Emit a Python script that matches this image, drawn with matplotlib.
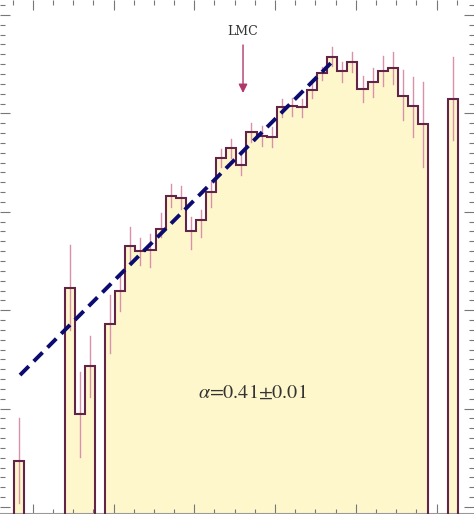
import numpy as np
import matplotlib
matplotlib.use('Agg')
import matplotlib.pyplot as plt
from matplotlib.ticker import MultipleLocator

# histogram bins (bin width 0.125), None = empty bin
bin_start = 0.77
bin_width = 0.125
heights = [0.47, None, None, None, None, 2.23, 0.95, 1.43, None,
           1.86, 2.19, 2.65, 2.60, 2.61, 2.83, 3.16, 3.14, 2.80, 2.92,
           3.20, 3.55, 3.65, 3.48, 3.81, 3.77, 3.76, 4.06, 4.07, 4.06,
           4.24, 4.41, 4.57, 4.43, 4.52, 4.25, 4.32, 4.43, 4.46, 4.18,
           4.07, 3.89, None, None, 4.15]
err_lo = [0.04, None, None, None, None, 1.80, 0.51, 1.12, None,
          1.56, 1.99, 2.47, 2.46, 2.44, 2.74, 3.05, 3.03, 2.62, 2.74,
          3.05, 3.45, 3.55, 3.37, 3.71, 3.67, 3.66, 3.96, 3.97, 3.96,
          4.16, 4.34, 4.48, 4.32, 4.42, 4.12, 4.17, 4.28, 4.30, 3.93,
          3.76, 3.46, None, None, 3.73]
err_hi = [0.90, None, None, None, None, 2.66, 1.37, 1.74, None,
          2.15, 2.37, 2.85, 2.73, 2.77, 2.99, 3.28, 3.26, 2.95, 3.02,
          3.30, 3.64, 3.74, 3.61, 3.90, 3.87, 3.86, 4.15, 4.16, 4.15,
          4.31, 4.47, 4.67, 4.52, 4.62, 4.38, 4.46, 4.58, 4.62, 4.44,
          4.37, 4.32, None, None, 4.57]

# power-law fit line
fit_x = [0.843, 4.704]
fit_y = [1.341, 4.522]
fit_label = r'$\alpha$=0.41$\pm$0.01'

# LMC marker
lmc_x = 3.603
lmc_tip = 4.207
lmc_tail = 4.695

base = -1.0
n = len(heights)
edges = bin_start + bin_width * np.arange(n + 1)
centers = edges[:-1] + bin_width / 2
vals = np.array([base if h is None else h for h in heights])

plt.rcParams['mathtext.fontset'] = 'stix'

fig = plt.figure(figsize=(4.74, 5.14), dpi=100)
ax = fig.add_axes([0, 0, 1, 1])

ax.stairs(vals, edges, baseline=base, fill=True, color='#fff7cc', zorder=1)

for c, lo, hi in zip(centers, err_lo, err_hi):
    if lo is None:
        continue
    ax.plot([c, c], [lo, hi], color='#d991aa', lw=1.0, zorder=2)

ax.stairs(vals, edges, baseline=base, fill=False, color='#632547', lw=1.5, zorder=3)

ax.plot(fit_x, fit_y, color='#0b0b70', lw=2.8, linestyle=(0, (3.2, 1.8)),
        solid_capstyle='butt', zorder=4)

ax.annotate('', xy=(lmc_x, lmc_tip), xytext=(lmc_x, lmc_tail),
            arrowprops=dict(arrowstyle='-|>', color='#b0376a', lw=1.0,
                            mutation_scale=13, shrinkA=0, shrinkB=0))
ax.text(lmc_x, lmc_tail + 0.14, 'LMC', ha='center', va='center',
        fontsize=9, family='DejaVu Serif', color='#333333')

ax.text(3.714, 1.159, fit_label, ha='center', va='center', fontsize=14.5,
        family='STIXGeneral', color='#333333')

ax.set_xlim(0.595, 6.462)
ax.set_ylim(-0.071, 5.152)
ax.xaxis.set_major_locator(MultipleLocator(1))
ax.xaxis.set_minor_locator(MultipleLocator(0.25))
ax.yaxis.set_major_locator(MultipleLocator(1))
ax.yaxis.set_minor_locator(MultipleLocator(0.1))
ax.tick_params(which='both', direction='in', top=True, right=True,
               labelbottom=False, labelleft=False, color='#777777', width=0.8)
ax.tick_params(which='major', length=7)
ax.tick_params(which='minor', length=3.6)
for side in ['left', 'top', 'right']:
    ax.spines[side].set_visible(False)
ax.spines['bottom'].set_color('#999999')
ax.spines['bottom'].set_linewidth(1.5)

fig.savefig('out.png', dpi=100)
